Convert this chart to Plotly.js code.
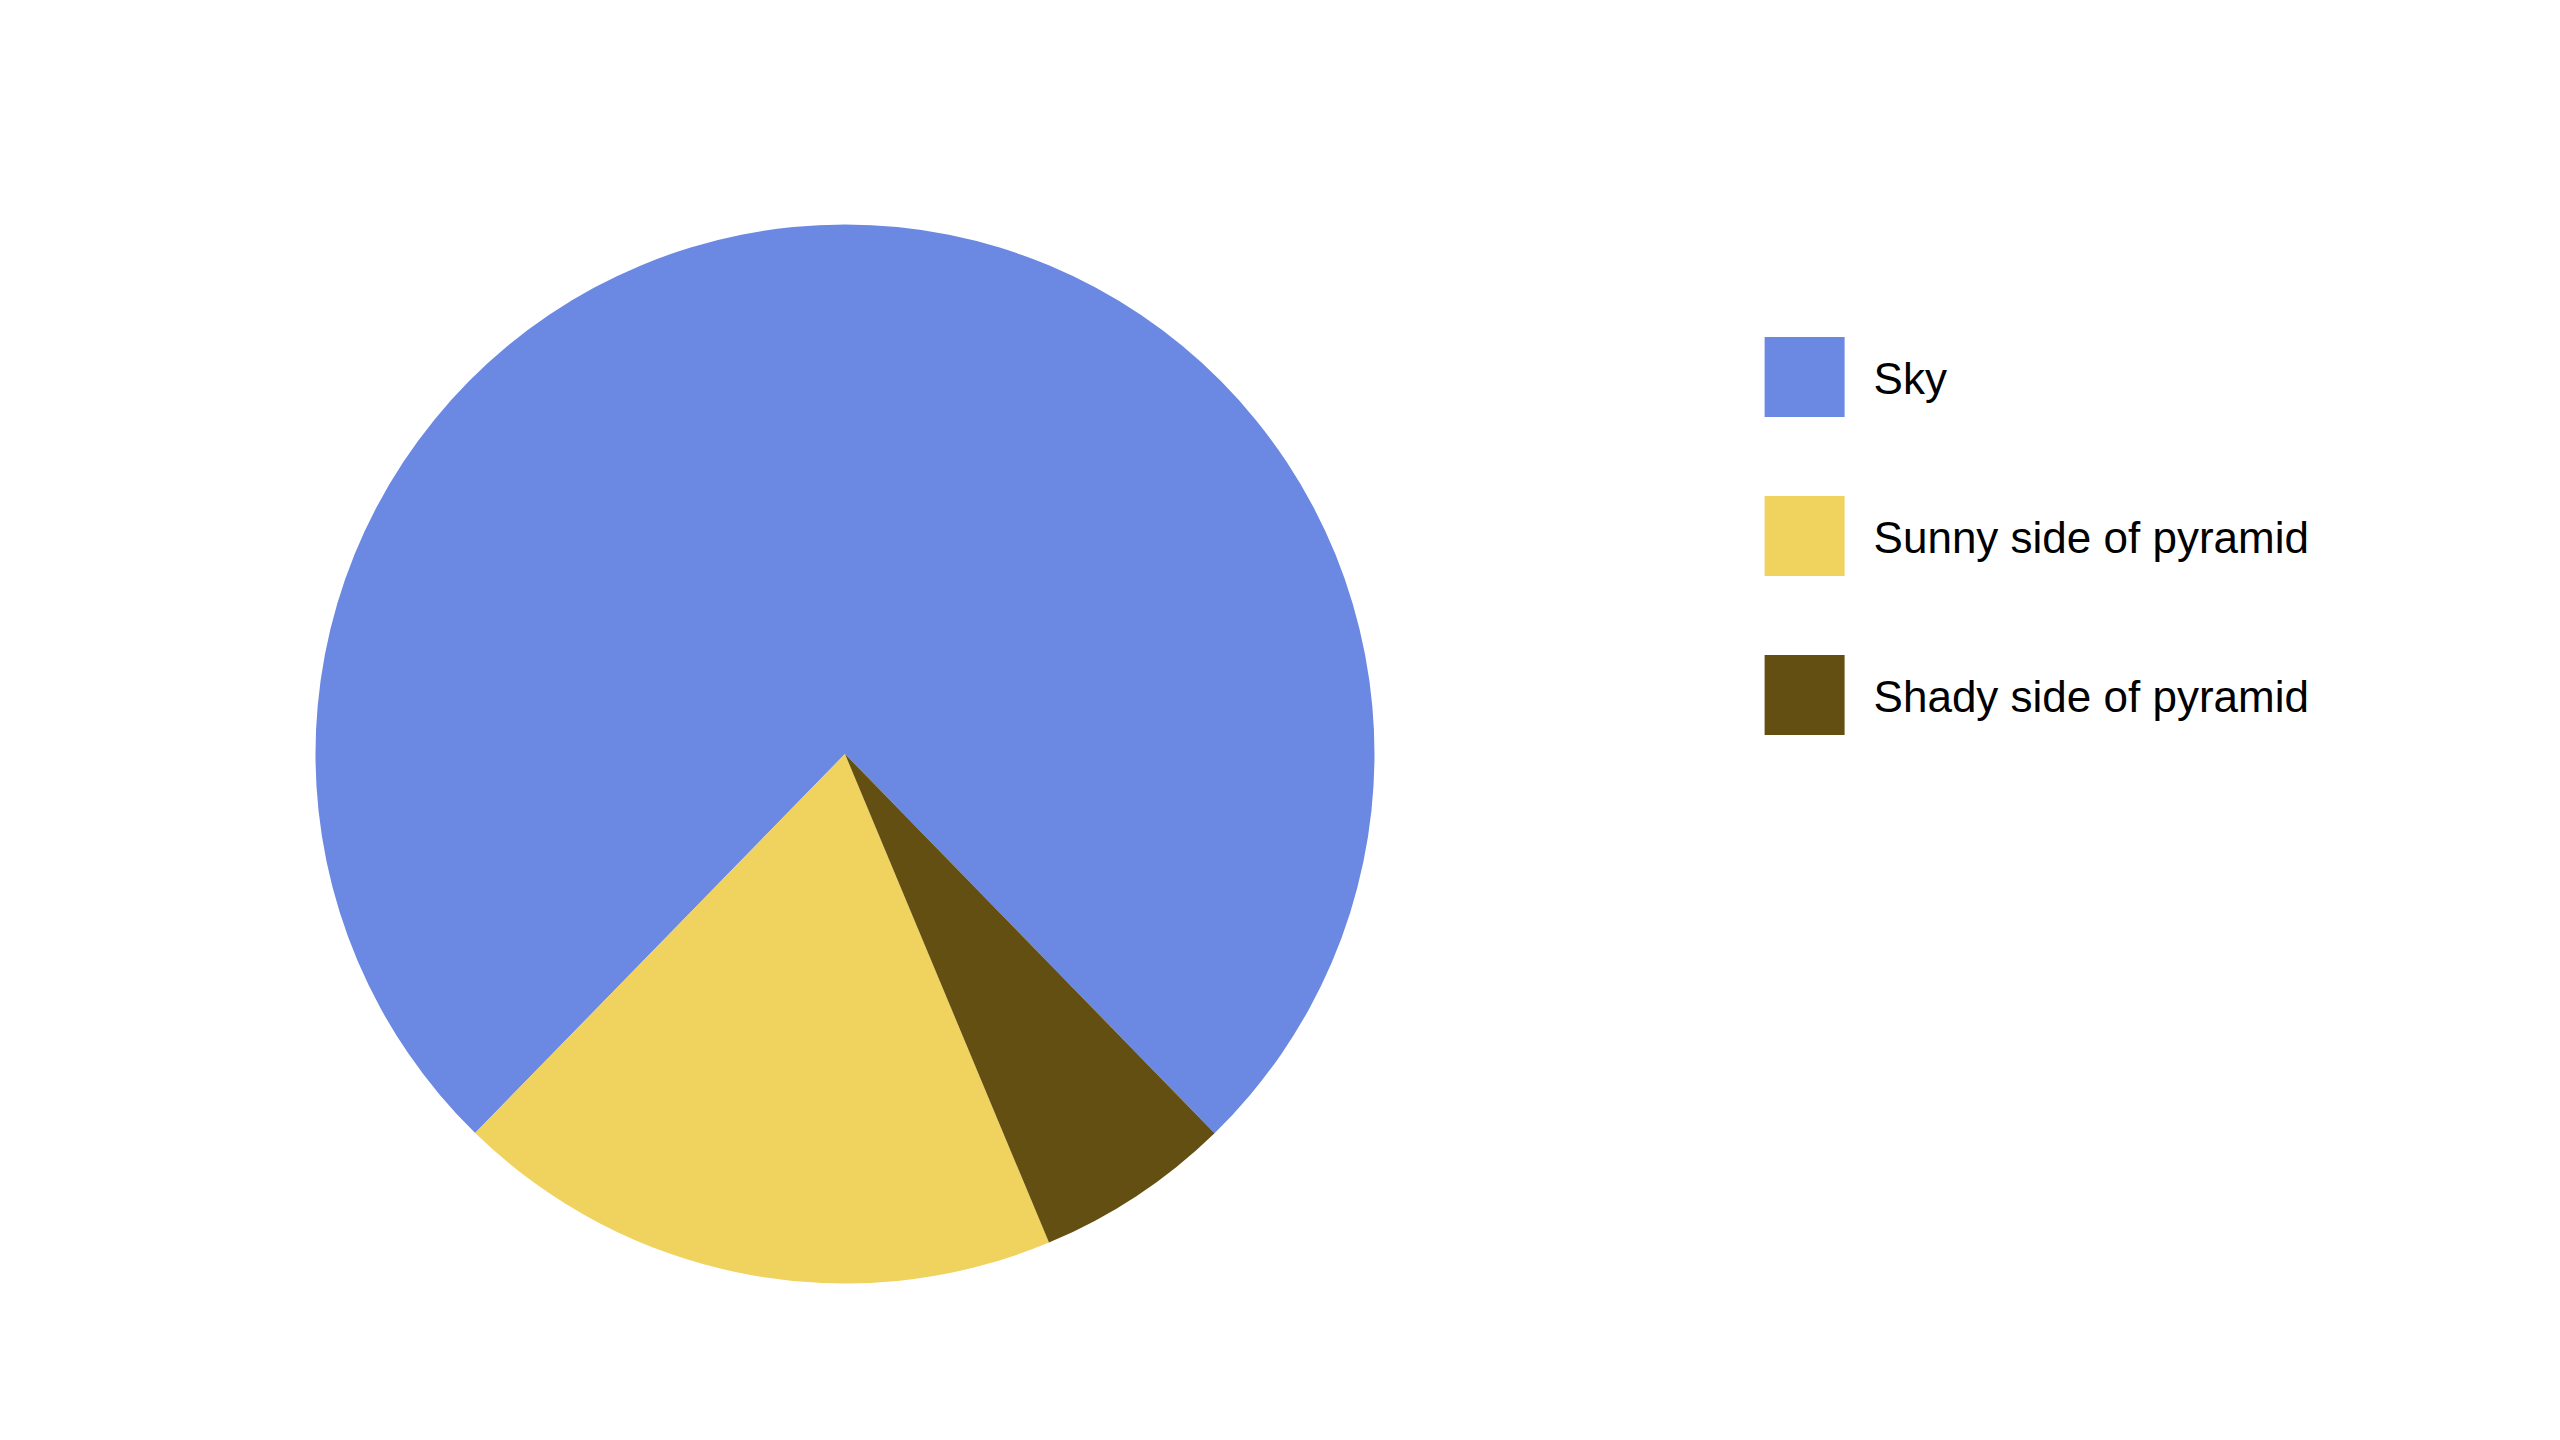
<!DOCTYPE html>
<html>
<head>
<meta charset="utf-8">
<script src="https://cdn.plot.ly/plotly-3.0.1.min.js"></script>
<style>html,body{margin:0;padding:0;background:#fff;}#chart{width:2560px;height:1440px;}</style>
</head>
<body>
<div id="chart"></div>
<script>
const labels = ['Sky', 'Sunny side of pyramid', 'Shady side of pyramid'];
const values = [75.4, 18.6, 6.0];
const colors = ['#6B88E2', '#F0D25E', '#634F12'];

const trace = {
  type: 'pie',
  labels: labels,
  values: values,
  sort: false,
  direction: 'counterclockwise',
  rotation: 224.3,
  textinfo: 'none',
  hoverinfo: 'skip',
  marker: { colors: colors, line: { width: 0 } },
  domain: { x: [0.12324, 0.53691], y: [0.10868, 0.84410] }
};

const layout = {
  width: 2560,
  height: 1440,
  margin: { l: 0, r: 0, t: 0, b: 0 },
  paper_bgcolor: '#ffffff',
  showlegend: true,
  legend: {
    x: 0.685, y: 0.7625, xanchor: 'left', yanchor: 'top',
    bgcolor: 'rgba(0,0,0,0)',
    itemwidth: 110,
    font: { family: 'Liberation Sans, Arial, sans-serif', size: 44, color: '#000000' }
  }
};

Plotly.newPlot('chart', [trace], layout, { displayModeBar: false, staticPlot: true }).then(function () {
  const gd = document.getElementById('chart');
  gd.querySelectorAll('.legend .scrollbox').forEach(function (el) { el.removeAttribute('clip-path'); });
  gd.querySelectorAll('.legend').forEach(function (el) { el.removeAttribute('clip-path'); });
  gd.querySelectorAll('.legendpie').forEach(function (p) {
    p.setAttribute('d', 'M40,40H-40V-40H40Z');
    p.setAttribute('transform', 'translate(51,0)');
  });
  const items = gd.querySelectorAll('.legend .traces');
  let y0 = null;
  items.forEach(function (g, i) {
    const t = g.getAttribute('transform') || '';
    const m = t.match(/translate\(([-\d.]+),\s*([-\d.]+)\)/);
    const x = m ? parseFloat(m[1]) : 0;
    const y = m ? parseFloat(m[2]) : 0;
    if (y0 === null) y0 = y;
    g.setAttribute('transform', 'translate(' + x + ',' + (y0 + i * 159) + ')');
  });
});
</script>
</body>
</html>
